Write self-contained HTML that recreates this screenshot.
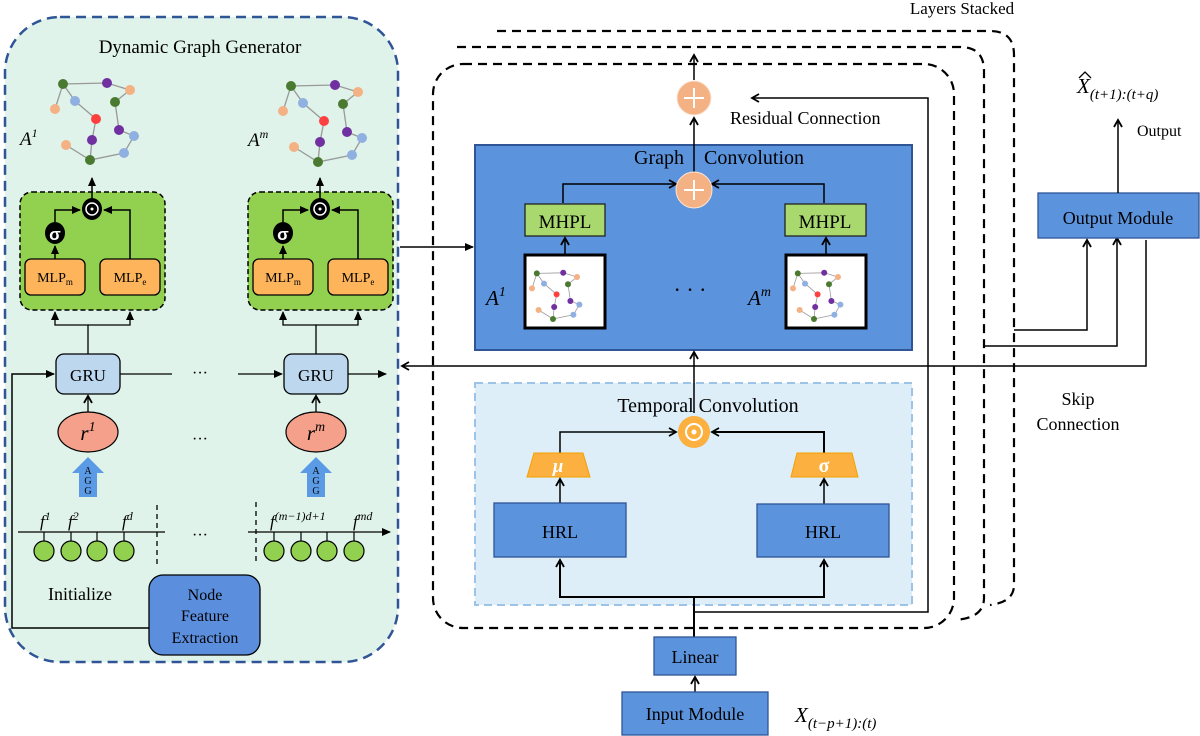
<!DOCTYPE html>
<html><head><meta charset="utf-8"><style>
body{margin:0;background:#fff}
svg{display:block;font-family:"Liberation Serif",serif}
</style></head><body>
<svg width="1200" height="736" viewBox="0 0 1200 736" xmlns="http://www.w3.org/2000/svg">
<defs>
<marker id="a" markerWidth="10" markerHeight="10" refX="8" refY="5" orient="auto" markerUnits="userSpaceOnUse"><path d="M1,1 L8,5 L1,9" fill="none" stroke="#000" stroke-width="1.8"/></marker>
<marker id="t" markerWidth="10" markerHeight="10" refX="8" refY="5" orient="auto" markerUnits="userSpaceOnUse"><path d="M0,1 L9,5 L0,9z" fill="#000"/></marker>
<g id="g1">
<g stroke="#999" stroke-width="1.3" fill="none">
<polyline points="55,109 63,84 107,83 130,90 115,102 119,130 134,136 124,153 90,160 66,145"/>
<polyline points="63,84 75,101 96,119 92,140 90,160"/>
</g>
<circle cx="63" cy="84" r="5" fill="#4a7a30"/><circle cx="107" cy="83" r="5" fill="#7030a0"/><circle cx="130" cy="90" r="5" fill="#f4b183"/>
<circle cx="115" cy="102" r="5" fill="#4a7a30"/><circle cx="55" cy="109" r="5" fill="#f4b183"/><circle cx="75" cy="101" r="5" fill="#8fb0e0"/>
<circle cx="96" cy="119" r="5" fill="#ff4040"/><circle cx="119" cy="130" r="5" fill="#7030a0"/><circle cx="134" cy="136" r="5" fill="#8fb0e0"/>
<circle cx="92" cy="140" r="5" fill="#7030a0"/><circle cx="66" cy="145" r="5" fill="#f4b183"/><circle cx="124" cy="153" r="5" fill="#8fb0e0"/><circle cx="90" cy="160" r="5" fill="#4a7a30"/>
</g>
</defs>

<rect x="5" y="17" width="393" height="645" rx="55" fill="#dff3ea" stroke="#2f5597" stroke-width="2.5" stroke-dasharray="10,6"/>
<text x="200" y="53" font-size="19" text-anchor="middle">Dynamic Graph Generator</text>
<use href="#g1"/>
<use href="#g1" transform="translate(228,2)"/>
<text x="20" y="145" font-size="19" font-style="italic">A<tspan font-size="12" dy="-8">1</tspan></text>
<text x="248" y="146" font-size="19" font-style="italic">A<tspan font-size="12" dy="-8">m</tspan></text>

<g id="gb">
<rect x="20" y="192" width="145" height="118" rx="12" fill="#92d050" stroke="#000" stroke-dasharray="5,3" stroke-width="1.5"/>
<rect x="25" y="259" width="60" height="36" rx="6" fill="#fdb45a" stroke="#000" stroke-width="1.3"/>
<rect x="100" y="259" width="60" height="36" rx="6" fill="#fdb45a" stroke="#000" stroke-width="1.3"/>
<text x="55" y="282" font-size="14" text-anchor="middle">MLP<tspan font-size="9" dy="3">m</tspan></text>
<text x="130" y="282" font-size="14" text-anchor="middle">MLP<tspan font-size="9" dy="3">e</tspan></text>
<line x1="55" y1="259" x2="55" y2="246" stroke="#000" stroke-width="1.5" marker-end="url(#t)"/>
<ellipse cx="55" cy="233" rx="10" ry="11" fill="#000"/>
<text x="55" y="240" font-size="17" fill="#fff" font-weight="bold" text-anchor="middle" font-family="Liberation Sans,sans-serif">σ</text>
<polyline points="55,222 55,210 80,210" fill="none" stroke="#000" stroke-width="1.5" marker-end="url(#t)"/>
<polyline points="130,259 130,210 104,210" fill="none" stroke="#000" stroke-width="1.5" marker-end="url(#t)"/>
<ellipse cx="92" cy="209" rx="10" ry="11" fill="#000"/>
<circle cx="92" cy="209" r="6" fill="none" stroke="#fff" stroke-width="1.5"/><circle cx="92" cy="209" r="1.5" fill="#fff"/>
<line x1="92" y1="198" x2="92" y2="178" stroke="#000" stroke-width="1.5" marker-end="url(#t)"/>
<polyline points="88,355 88,325 55,325 55,312" fill="none" stroke="#000" stroke-width="1.3" marker-end="url(#t)"/>
<polyline points="88,325 130,325 130,312" fill="none" stroke="#000" stroke-width="1.3" marker-end="url(#t)"/>
<rect x="56" y="354" width="64" height="40" rx="8" fill="#bdd7ee" stroke="#000" stroke-width="1.3"/>
<text x="88" y="381" font-size="17" text-anchor="middle">GRU</text>
<line x1="88" y1="412" x2="88" y2="396" stroke="#000" stroke-width="1.3" marker-end="url(#a)"/>
<path d="M79,497 L79,473 L72,473 L88,457 L104,473 L97,473 L97,497z" fill="#5b9be6"/>
<text x="88" y="474" font-size="10" text-anchor="middle">A</text><text x="88" y="484" font-size="10" text-anchor="middle">G</text><text x="88" y="494" font-size="10" text-anchor="middle">G</text>
</g>
<use href="#gb" transform="translate(228,0)"/>
<ellipse cx="88" cy="432" rx="30" ry="20" fill="#f4a08a" stroke="#000" stroke-width="1.2"/>
<text x="88" y="440" font-size="21" font-style="italic" text-anchor="middle">r<tspan font-size="14" dy="-9">1</tspan></text>
<ellipse cx="316" cy="432" rx="30" ry="20" fill="#f4a08a" stroke="#000" stroke-width="1.2"/>
<text x="316" y="440" font-size="21" font-style="italic" text-anchor="middle">r<tspan font-size="14" dy="-9">m</tspan></text>
<line x1="120" y1="374" x2="172" y2="374" stroke="#000" stroke-width="1.3"/>
<line x1="238" y1="374" x2="282" y2="374" stroke="#000" stroke-width="1.3" marker-end="url(#t)"/>
<line x1="348" y1="374" x2="386" y2="374" stroke="#000" stroke-width="1.3" marker-end="url(#t)"/>
<text x="200" y="378" font-size="16" text-anchor="middle">···</text>
<text x="200" y="444" font-size="16" text-anchor="middle">···</text>
<text x="200" y="540" font-size="16" text-anchor="middle">···</text>

<line x1="18" y1="532" x2="165" y2="532" stroke="#000" stroke-width="1.3"/>
<line x1="157" y1="505" x2="157" y2="565" stroke="#000" stroke-width="1.3" stroke-dasharray="5,4"/>
<line x1="248" y1="532" x2="390" y2="532" stroke="#000" stroke-width="1.3" marker-end="url(#t)"/>
<line x1="256" y1="502" x2="256" y2="565" stroke="#000" stroke-width="1.3" stroke-dasharray="5,4"/>
<g fill="#92d050" stroke="#000" stroke-width="1.2">
<circle cx="44" cy="551" r="10"/><circle cx="71" cy="551" r="10"/><circle cx="97" cy="551" r="10"/><circle cx="124" cy="551" r="10"/>
<circle cx="274" cy="551" r="10"/><circle cx="301" cy="551" r="10"/><circle cx="327" cy="551" r="10"/><circle cx="354" cy="551" r="10"/>
</g>
<g stroke="#000" stroke-width="1.2"><line x1="44" y1="532" x2="44" y2="541"/><line x1="71" y1="532" x2="71" y2="541"/><line x1="97" y1="532" x2="97" y2="541"/><line x1="124" y1="532" x2="124" y2="541"/><line x1="274" y1="532" x2="274" y2="541"/><line x1="301" y1="532" x2="301" y2="541"/><line x1="327" y1="532" x2="327" y2="541"/><line x1="354" y1="532" x2="354" y2="541"/></g>
<g font-size="17" font-style="italic"><text x="40" y="527">f<tspan font-size="12" dy="-7">1</tspan></text><text x="68" y="527">f<tspan font-size="12" dy="-7">2</tspan></text><text x="122" y="527">f<tspan font-size="12" dy="-7">d</tspan></text>
<text x="270" y="527">f<tspan font-size="12" dy="-7">(m−1)d+1</tspan></text><text x="353" y="527">f<tspan font-size="12" dy="-7">md</tspan></text></g>
<text x="80" y="600" font-size="18" text-anchor="middle">Initialize</text>
<rect x="149" y="575" width="111" height="80" rx="14" fill="#5b8fde" stroke="#000" stroke-width="1.3"/>
<text x="205" y="600" font-size="16" text-anchor="middle">Node</text><text x="205" y="621" font-size="16" text-anchor="middle">Feature</text><text x="205" y="643" font-size="16" text-anchor="middle">Extraction</text>
<polyline points="149,628 12,628 12,374 54,374" fill="none" stroke="#000" stroke-width="1.5" marker-end="url(#t)"/>

<g fill="none" stroke="#000" stroke-width="2.2" stroke-dasharray="9,6">
<path d="M497,31 L990,31 Q1014,31 1014,55 L1014,585 Q1014,602 990,605"/>
<path d="M457,47 L960,47 Q984,47 984,71 L984,598 Q984,618 955,620"/>
<rect x="433" y="64" width="521" height="564" rx="30"/>
</g>
<text x="962" y="14" font-size="17" text-anchor="middle">Layers Stacked</text>

<polyline points="694,598 694,612 928,612 928,98 752,98" fill="none" stroke="#000" stroke-width="1.5" marker-end="url(#a)"/>
<text x="730" y="124" font-size="18">Residual Connection</text>
<line x1="694" y1="80" x2="694" y2="55" stroke="#000" stroke-width="1.5" marker-end="url(#a)"/>
<circle cx="694" cy="98" r="17" fill="#f4b183" stroke="#fbe5d6"/>
<path d="M684,98 H704 M694,88 V108" stroke="#fff" stroke-width="2"/>

<rect x="475" y="145" width="437" height="205" fill="#5b93dd" stroke="#2f5597" stroke-width="2"/>
<text x="634" y="164" font-size="20">Graph</text><text x="704" y="164" font-size="20">Convolution</text>
<line x1="694" y1="172" x2="694" y2="118" stroke="#000" stroke-width="1.5" marker-end="url(#a)"/>
<polyline points="563,203 563,184 676,184" fill="none" stroke="#000" stroke-width="1.5" marker-end="url(#a)"/>
<polyline points="824,203 824,184 712,184" fill="none" stroke="#000" stroke-width="1.5" marker-end="url(#a)"/>
<circle cx="694" cy="190" r="18" fill="#f4b183" stroke="#fbe5d6"/>
<path d="M684,190 H704 M694,180 V200" stroke="#fff" stroke-width="2"/>
<rect x="525" y="204" width="80" height="32" fill="#a9d86e" stroke="#222" stroke-width="1.3"/>
<rect x="785" y="204" width="81" height="32" fill="#a9d86e" stroke="#222" stroke-width="1.3"/>
<text x="565" y="228" font-size="19" text-anchor="middle">MHPL</text><text x="825" y="228" font-size="19" text-anchor="middle">MHPL</text>
<line x1="565" y1="255" x2="565" y2="238" stroke="#000" stroke-width="1.5" marker-end="url(#a)"/>
<line x1="826" y1="255" x2="826" y2="238" stroke="#000" stroke-width="1.5" marker-end="url(#a)"/>
<rect x="525" y="255" width="80" height="73" fill="#fff" stroke="#000" stroke-width="3"/>
<rect x="786" y="255" width="80" height="73" fill="#fff" stroke="#000" stroke-width="3"/>
<use href="#g1" transform="translate(499,223) scale(0.6)"/>
<use href="#g1" transform="translate(760,223) scale(0.6)"/>
<text x="486" y="305" font-size="21" font-style="italic">A<tspan font-size="14" dy="-9">1</tspan></text>
<text x="748" y="305" font-size="21" font-style="italic">A<tspan font-size="14" dy="-9">m</tspan></text>
<text x="690" y="297" font-size="22" text-anchor="middle">· · ·</text>
<line x1="400" y1="247" x2="473" y2="247" stroke="#000" stroke-width="1.5" marker-end="url(#t)"/>

<polyline points="1146,240 1146,366 402,366" fill="none" stroke="#000" stroke-width="1.5" marker-end="url(#a)"/>
<polyline points="1014,330 1087,330 1087,240" fill="none" stroke="#000" stroke-width="1.5" marker-end="url(#a)"/>
<polyline points="984,346 1117,346 1117,238" fill="none" stroke="#000" stroke-width="1.5" marker-end="url(#a)"/>
<text x="1078" y="405" font-size="18" text-anchor="middle">Skip</text>
<text x="1078" y="430" font-size="18" text-anchor="middle">Connection</text>

<rect x="475" y="383" width="437" height="222" fill="#ddeef8" stroke="#9dc3e6" stroke-width="2" stroke-dasharray="8,5"/>
<line x1="694" y1="413" x2="694" y2="352" stroke="#000" stroke-width="1.5" marker-end="url(#a)"/>
<text x="708" y="412" font-size="20" text-anchor="middle">Temporal Convolution</text>
<polyline points="560,453 560,432 676,432" fill="none" stroke="#000" stroke-width="1.5" marker-end="url(#a)"/>
<polyline points="824,453 824,432 712,432" fill="none" stroke="#000" stroke-width="2" marker-end="url(#a)"/>
<circle cx="694" cy="432" r="16" fill="#fbb040"/>
<circle cx="694" cy="432" r="8" fill="none" stroke="#fff" stroke-width="2"/><circle cx="694" cy="432" r="2.5" fill="#fff"/>
<path d="M527,477 L534,453 L583,453 L590,477z" fill="#fbb040" stroke="#f4a000"/>
<path d="M791,477 L797,453 L852,453 L858,477z" fill="#fbb040" stroke="#f4a000"/>
<text x="558" y="472" font-size="19" fill="#fff" font-weight="bold" font-style="italic" text-anchor="middle">μ</text>
<text x="824" y="472" font-size="20" fill="#fff" font-weight="bold" text-anchor="middle">σ</text>
<line x1="560" y1="503" x2="560" y2="479" stroke="#000" stroke-width="1.5" marker-end="url(#a)"/>
<line x1="824" y1="504" x2="824" y2="479" stroke="#000" stroke-width="1.5" marker-end="url(#a)"/>
<rect x="494" y="503" width="132" height="54" fill="#5b93dd" stroke="#2f5597" stroke-width="1.3"/>
<rect x="757" y="504" width="132" height="53" fill="#5b93dd" stroke="#2f5597" stroke-width="1.3"/>
<text x="560" y="538" font-size="18" text-anchor="middle">HRL</text><text x="823" y="538" font-size="18" text-anchor="middle">HRL</text>
<polyline points="694,637 694,597 560,597 560,560" fill="none" stroke="#000" stroke-width="2" marker-end="url(#a)"/>
<polyline points="694,597 824,597 824,560" fill="none" stroke="#000" stroke-width="2" marker-end="url(#a)"/>

<rect x="654" y="637" width="82" height="38" fill="#5b93dd" stroke="#2f5597" stroke-width="1.3"/>
<text x="695" y="663" font-size="18" text-anchor="middle">Linear</text>
<line x1="695" y1="692" x2="695" y2="677" stroke="#000" stroke-width="1.5" marker-end="url(#a)"/>
<rect x="622" y="692" width="146" height="43" fill="#5b93dd" stroke="#2f5597" stroke-width="1.3"/>
<text x="695" y="720" font-size="18" text-anchor="middle">Input Module</text>
<text x="795" y="722" font-size="21" font-style="italic">X<tspan font-size="15" dy="6">(t−p+1):(t)</tspan></text>

<rect x="1038" y="193" width="161" height="45" fill="#5b93dd" stroke="#2f5597" stroke-width="1.3"/>
<text x="1118" y="224" font-size="18" text-anchor="middle">Output Module</text>
<line x1="1118" y1="193" x2="1118" y2="120" stroke="#000" stroke-width="1.5" marker-end="url(#a)"/>
<text x="1137" y="136" font-size="16">Output</text>
<text x="1077" y="93" font-size="21" font-style="italic">X<tspan font-size="15" dy="6">(t+1):(t+q)</tspan></text>
<path d="M1079,78 L1085,72 L1091,78" fill="none" stroke="#000" stroke-width="1.3"/>
</svg>
</body></html>
